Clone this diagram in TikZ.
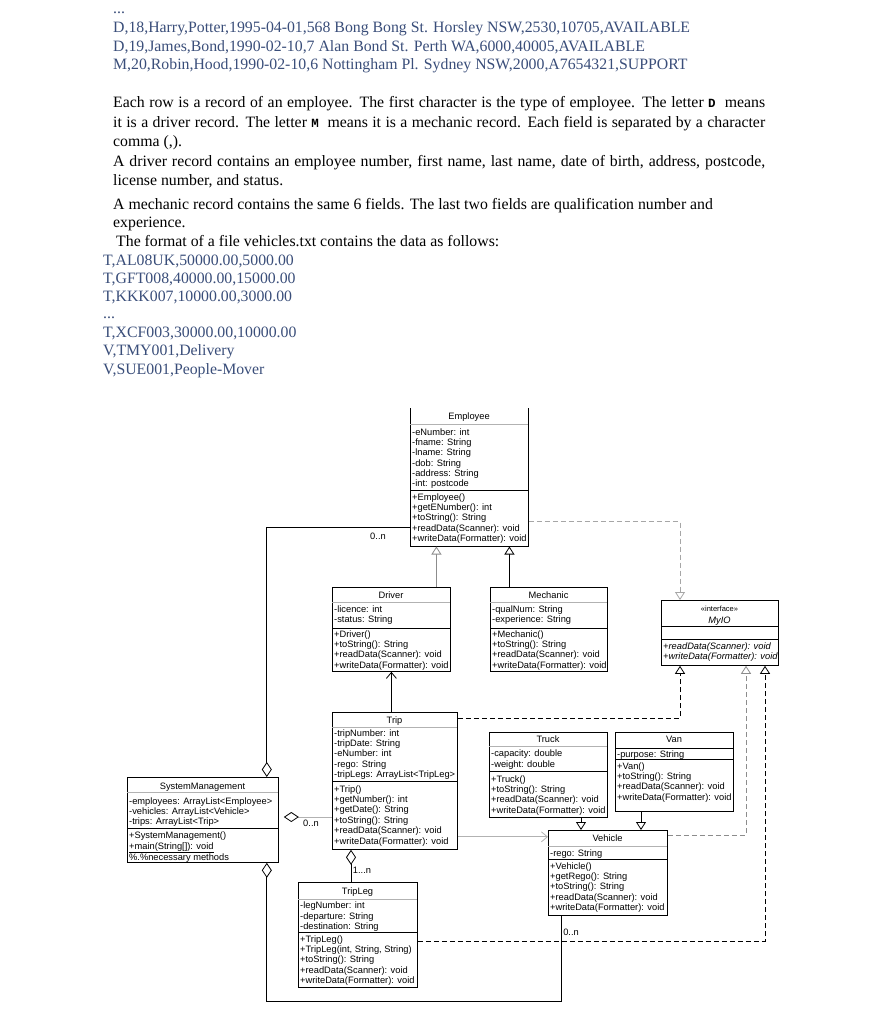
\documentclass[tikz,border=0pt]{standalone}
\usepackage{fontspec}
\setmainfont{Liberation Serif}
\newfontfamily\umlfont{Liberation Sans}
\newfontfamily\monofont{Liberation Mono}
\usetikzlibrary{arrows.meta}
\definecolor{datablue}{RGB}{58,78,122}
\newcommand{\umlsize}{\umlfont\fontsize{9.3}{10.35}\selectfont}
\newcommand{\bodysize}{\fontsize{15.8}{18.5}\selectfont}
\newcommand{\letterkey}[1]{{\monofont\bfseries\fontsize{12.5}{18.5}\selectfont #1}}

\begin{document}
\begin{tikzpicture}[x=1pt, y=-1pt,
    every node/.style={inner sep=0pt},
    body/.style={anchor=base west, font=\bodysize},
    data/.style={anchor=base west, font=\bodysize, text=datablue},
    classbox/.style={draw, line width=0.8pt, anchor=north west},
    cname/.style={anchor=base, font=\umlsize},
    members/.style={anchor=north west, align=left, font=\umlsize},
    lightsep/.style={black!30, line width=0.6pt},
    darksep/.style={line width=0.8pt},
    mult/.style={font=\umlsize},
    gen/.style={line width=0.8pt, -{Triangle[open, fill=white, length=8pt, width=10pt]}},
    real/.style={gen, dash pattern=on 5pt off 3pt},
    nav/.style={line width=0.8pt, -{Straight Barb[length=6pt, width=10pt]}},
    aggr/.style={line width=0.8pt, {Diamond[open, fill=white, color=black, length=15pt, width=10pt]}-},
]
\fill[white] (0,0) rectangle (880,1024);
\useasboundingbox (0,0) rectangle (880,1024);

% records of employees.txt
\node[data] (dotsa) at (113,14) {...};
\node[data] (rec1) at (113,33) {D,18,Harry,Potter,1995-04-01,568 Bong Bong St. Horsley NSW,2530,10705,AVAILABLE};
\node[data] (rec2) at (113,52) {D,19,James,Bond,1990-02-10,7 Alan Bond St. Perth WA,6000,40005,AVAILABLE};
\node[data] (rec3) at (113,70) {M,20,Robin,Hood,1990-02-10,6 Nottingham Pl. Sydney NSW,2000,A7654321,SUPPORT};

\node[body] (par1) at (113,108) {\makebox[652pt][s]{Each row is a record of an employee. The first character is the type of employee. The letter \letterkey{D} \ means}};
\node[body] (par2) at (113,128) {\makebox[652pt][s]{it is a driver record. The letter \letterkey{M} \ means it is a mechanic record. Each field is separated by a character}};
\node[body] (par3) at (113,147) {comma (,).};
\node[body] (par4) at (113,167) {\makebox[652pt][s]{A driver record contains an employee number, first name, last name, date of birth, address, postcode,}};
\node[body] (par5) at (113,186) {license number, and status.};
\node[body] (par6) at (113,210) {A mechanic record contains the same 6 fields. The last two fields are qualification number and};
\node[body] (par7) at (113,228) {experience.};
\node[body] (par8) at (116,246) {The format of a file vehicles.txt contains the data as follows:};

% records of vehicles.txt
\node[data] (veh1) at (103,265) {T,AL08UK,50000.00,5000.00};
\node[data] (veh2) at (103,283) {T,GFT008,40000.00,15000.00};
\node[data] (veh3) at (103,301) {T,KKK007,10000.00,3000.00};
\node[data] (dotsb) at (103,318) {...};
\node[data] (veh4) at (103,337) {T,XCF003,30000.00,10000.00};
\node[data] (veh5) at (103,355) {V,TMY001,Delivery};
\node[data] (veh6) at (103,374) {V,SUE001,People-Mover};

% Employee
\node[classbox, draw=none, minimum width=118, minimum height=137.7] (employee) at (410,408) {};
\draw[line width=0.8pt] (employee.north west) -- (employee.south west) -- (employee.south east) -- (employee.north east);
\node[cname] (empname) at (469,419) {Employee};
\draw[lightsep] (410,424) -- (528,424);
\node[members] (empattr) at (412,427.8) {\strut-eNumber: int\\-fname: String\\-lname: String\\-dob: String\\-address: String\\-int: postcode};
\draw[darksep] (410,490) -- (528,490);
\node[members] (empops) at (412,492.8) {\strut+Employee()\\+getENumber(): int\\+toString(): String\\+readData(Scanner): void\\+writeData(Formatter): void};

% Driver
\node[classbox, minimum width=118, minimum height=84] (driver) at (332,587) {};
\node[cname] (drvname) at (391,598) {Driver};
\draw[lightsep] (332,602) -- (450,602);
\node[members] (drvattr) at (334,604.8) {\strut-licence: int\\-status: String};
\draw[darksep] (332,628) -- (450,628);
\node[members] (drvops) at (334,629.8) {\strut+Driver()\\+toString(): String\\+readData(Scanner): void\\+writeData(Formatter): void};

% Mechanic
\node[classbox, minimum width=117, minimum height=84] (mechanic) at (490,587) {};
\node[cname] (mecname) at (548.5,598) {Mechanic};
\draw[lightsep] (490,602) -- (607,602);
\node[members] (mecattr) at (492,604.8) {\strut-qualNum: String\\-experience: String};
\draw[darksep] (490,628) -- (607,628);
\node[members] (mecops) at (492,629.8) {\strut+Mechanic()\\+toString(): String\\+readData(Scanner): void\\+writeData(Formatter): void};

% MyIO
\node[classbox, minimum width=117, minimum height=65] (myio) at (661,600) {};
\node[cname, font=\umlfont\fontsize{7.5}{9}\selectfont] (myiost) at (719.5,611) {«interface»};
\node[cname, font=\umlsize\itshape] (myioname) at (719.5,623) {MyIO};
\draw[darksep] (661,626) -- (778,626);
\draw[darksep] (661,639) -- (778,639);
\node[members, font=\umlsize\itshape] (myioops) at (663,641.8) {\strut+readData(Scanner): void\\+writeData(Formatter): void};

% Trip
\node[classbox, minimum width=125, minimum height=137] (trip) at (332,712) {};
\node[cname] (tripname) at (394.5,723) {Trip};
\draw[lightsep] (332,727) -- (457,727);
\node[members] (tripattr) at (334,728.8) {\strut-tripNumber: int\\-tripDate: String\\-eNumber: int\\-rego: String\\-tripLegs: ArrayList<TripLeg>};
\draw[darksep] (332,781.7) -- (457,781.7);
\node[members] (tripops) at (334,784.8) {\strut+Trip()\\+getNumber(): int\\+getDate(): String\\+toString(): String\\+readData(Scanner): void\\+writeData(Formatter): void};

% SystemManagement
\node[classbox, minimum width=151, minimum height=85] (sysmgmt) at (127,777) {};
\node[cname] (smname) at (202.5,789) {SystemManagement};
\draw[lightsep] (127,792) -- (278,792);
\node[members] (smattr) at (129,796.8) {\strut-employees: ArrayList<Employee>\\-vehicles: ArrayList<Vehicle>\\-trips: ArrayList<Trip>};
\draw[darksep] (127,828) -- (278,828);
\node[members] (smops) at (129,831.3) {\strut+SystemManagement()\\\underline{+main(String[]): void}\\\%.\%necessary methods};

% TripLeg
\node[classbox, minimum width=119, minimum height=105] (tripleg) at (298,882) {};
\node[cname] (tlname) at (357.5,894) {TripLeg};
\draw[lightsep] (298,899) -- (417,899);
\node[members] (tlattr) at (300,901.5) {\strut-legNumber: int\\-departure: String\\-destination: String};
\draw[darksep] (298,932) -- (417,932);
\node[members] (tlops) at (300,934.8) {\strut+TripLeg()\\+TripLeg(int, String, String)\\+toString(): String\\+readData(Scanner): void\\+writeData(Formatter): void};

% Truck
\node[classbox, minimum width=118, minimum height=85] (truck) at (489,732) {};
\node[cname] (trkname) at (548,742) {Truck};
\draw[lightsep] (489,746) -- (607,746);
\node[members] (trkattr) at (491,749.5) {\strut-capacity: double\\-weight: double};
\draw[darksep] (489,771.7) -- (607,771.7);
\node[members] (trkops) at (491,774.8) {\strut+Truck()\\+toString(): String\\+readData(Scanner): void\\+writeData(Formatter): void};

% Van
\node[classbox, minimum width=118, minimum height=79] (van) at (615,732) {};
\node[cname] (vanname) at (674,742) {Van};
\draw[darksep] (615,748) -- (733,748);
\node[members] (vanattr) at (617,749.8) {\strut-purpose: String};
\draw[darksep] (615,759) -- (733,759);
\node[members] (vanops) at (617,761.8) {\strut+Van()\\+toString(): String\\+readData(Scanner): void\\+writeData(Formatter): void};

% Vehicle
\node[classbox, minimum width=119, minimum height=85] (vehicle) at (548,830) {};
\node[cname] (vehname) at (607.5,841) {Vehicle};
\draw[lightsep] (548,846.7) -- (667,846.7);
\node[members] (vehattr) at (550,848.8) {\strut-rego: String};
\draw[darksep] (548,859) -- (667,859);
\node[members] (vehops) at (550,861.8) {\strut+Vehicle()\\+getRego(): String\\+toString(): String\\+readData(Scanner): void\\+writeData(Formatter): void};

% connectors
\coordinate (empleft) at ([yshift=18.7]employee.south west);
\coordinate (smtop) at ([xshift=-12]sysmgmt.north east);
\draw[aggr] (smtop) |- (empleft);
\node[mult] (multemp) at (378,536) {0..n};

\coordinate (drvup) at ([xshift=45]driver.north);
\draw[gen, black!45] (drvup) -- (drvup |- employee.south);
\coordinate (mecup) at ([xshift=-39.5]mechanic.north);
\draw[gen] (mecup) -- (mecup |- employee.south);

\coordinate (empright) at ([yshift=24.7]employee.south east);
\coordinate (myiotop) at ([xshift=19]myio.north west);
\draw[real, black!35] (empright) -| (myiotop);

\coordinate (tripright) at ([yshift=-6]trip.north east);
\coordinate (myioa) at ([xshift=19]myio.south west);
\draw[real] (tripright) -| (myioa);

\coordinate (vehright) at ([yshift=-5]vehicle.north east);
\coordinate (myiob) at ([xshift=85]myio.south west);
\draw[real, black!45] (vehright) -| (myiob);

\coordinate (tlright) at ([yshift=-59]tripleg.north east);
\coordinate (myioc) at ([xshift=104]myio.south west);
\draw[real] (tlright) -| (myioc);

\draw[nav] (driver.south |- trip.north) -- (driver.south);

\coordinate (tripveh) at ([yshift=13]trip.south east);
\draw[nav, black!30] (tripveh) -- (tripveh -| vehicle.west);

\coordinate (smright) at ([xshift=5,yshift=-40]sysmgmt.north east);
\draw[aggr, black!30] (smright) -- (smright -| trip.west);
\node[mult] (multtrip) at (311,823) {0..n};

\coordinate (tripdown) at ([xshift=19]trip.south west);
\draw[aggr] (tripdown) -- (tripdown |- tripleg.north);
\node[mult] (multleg) at (362,870) {1...n};

\coordinate (smbottom) at ([xshift=-12]sysmgmt.south east);
\coordinate (vehbottom) at ([xshift=13]vehicle.south west);
\draw[aggr] (smbottom) -- ++(0,139) -| (vehbottom);
\node[mult] (multveh) at (571,932) {0..n};

\coordinate (trkdown) at ([xshift=92]truck.south west);
\draw[gen] (trkdown) -- (trkdown |- vehicle.north);
\coordinate (vandown) at ([xshift=26]van.south west);
\draw[gen] (vandown) -- (vandown |- vehicle.north);
\end{tikzpicture}
\end{document}
